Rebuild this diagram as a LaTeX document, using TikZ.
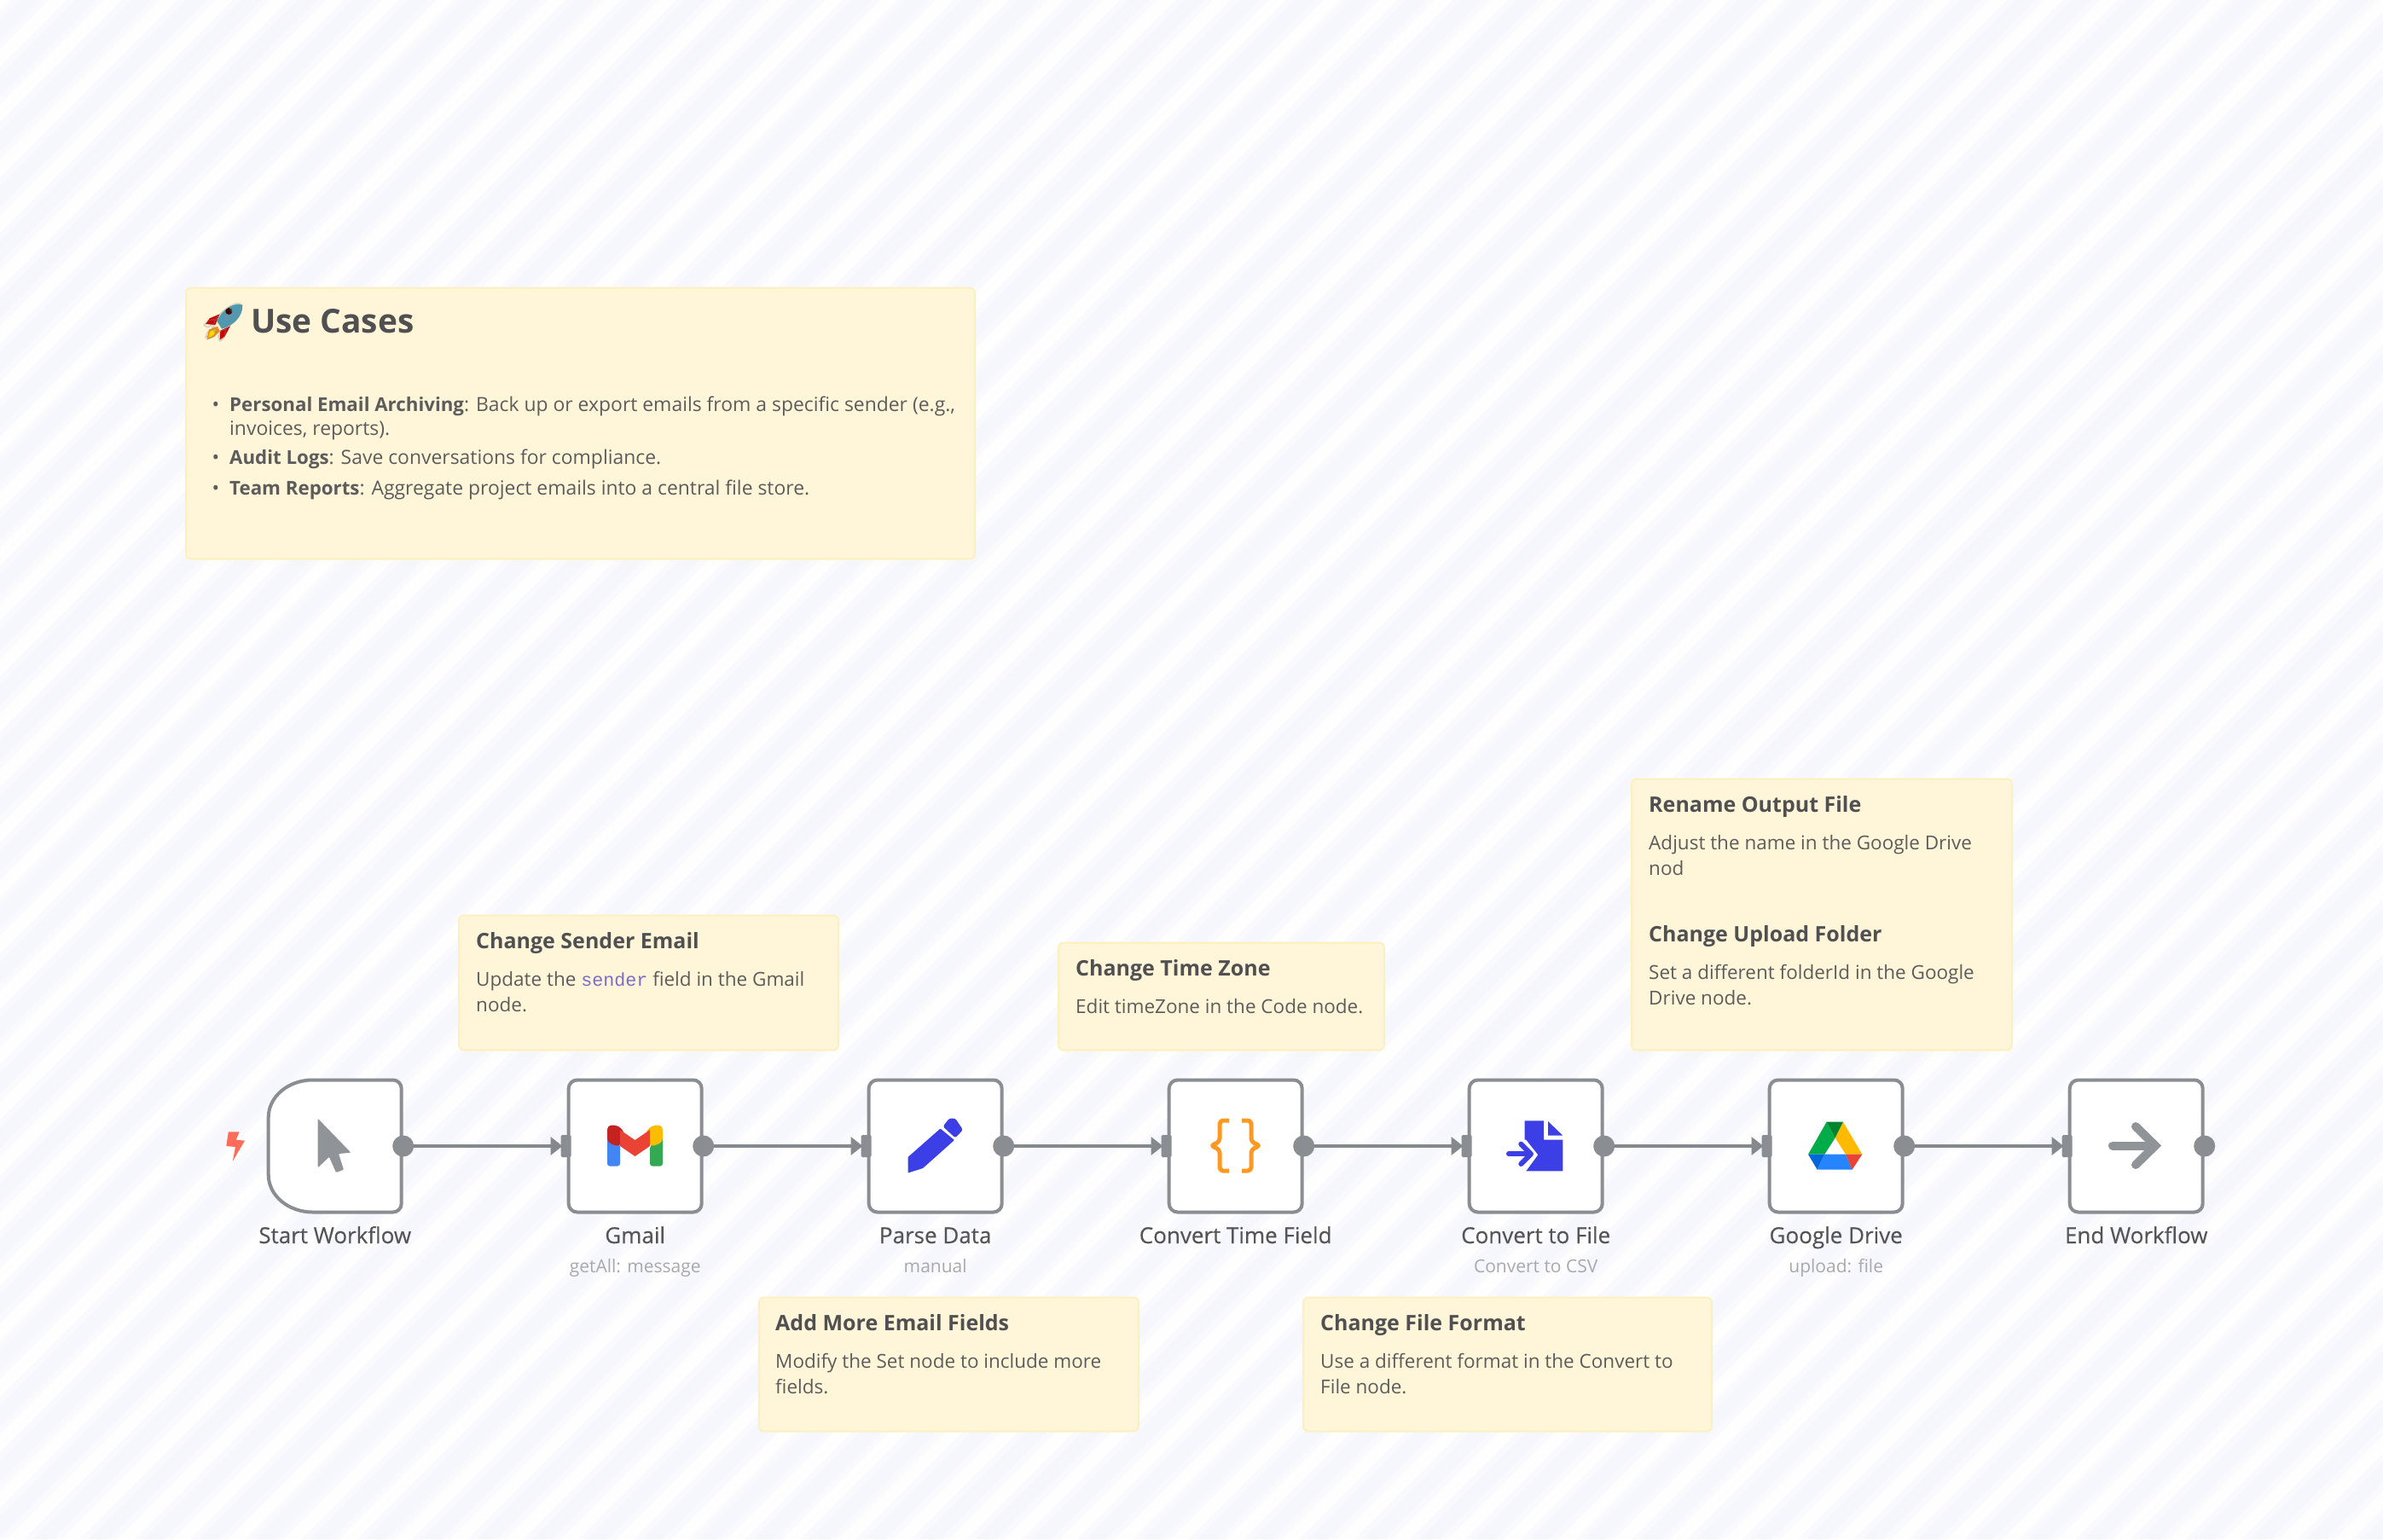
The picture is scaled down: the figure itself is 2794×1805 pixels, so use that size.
\documentclass[tikz,border=0pt]{standalone}
\usepackage{fontspec}
\setmainfont{Open Sans}
\newfontfamily\codefont{Liberation Mono}
\newfontfamily\emojifont{Noto Emoji}
\newfontfamily\labelfont{Open Sans}[FakeBold=0.35]
\newcommand{\leadin}[1]{{\fontsize{22.3}{28}\selectfont\bfseries #1}}
\usetikzlibrary{arrows.meta}
\definecolor{stripeA}{HTML}{FEFEFF}
\definecolor{stripeB}{HTML}{FAFAFE}
\definecolor{stripeC}{HTML}{F6F7FC}
\definecolor{noteFill}{HTML}{FFF5D8}
\definecolor{noteEdge}{HTML}{FDF0BF}
\definecolor{nodeEdge}{HTML}{8A8D91}
\definecolor{wireCol}{HTML}{85888C}
\definecolor{iconGrey}{HTML}{909398}
\definecolor{iconBlue}{HTML}{3D3FE6}
\definecolor{titleCol}{HTML}{505052}
\definecolor{bodyCol}{HTML}{5C5C5C}
\definecolor{labelCol}{HTML}{555558}
\definecolor{subCol}{HTML}{A8A9AC}
\definecolor{codeCol}{HTML}{7B6DC6}
\definecolor{boltCol}{HTML}{FF6D5A}
\definecolor{braceCol}{HTML}{FF9922}
\tikzset{
  note/.style={draw=noteEdge,fill=noteFill,line width=2pt,rounded corners=6pt},
  ntitle/.style={anchor=base west,inner sep=0pt,text=titleCol,font=\fontsize{25}{30}\selectfont\bfseries},
  nbody/.style={anchor=base west,inner sep=0pt,text=bodyCol,font=\fontsize{22.5}{28}\selectfont},
  ubody/.style={anchor=base west,inner sep=0pt,text=bodyCol,font=\fontsize{22.9}{28}\selectfont},
  wfbox/.style={draw=nodeEdge,fill=white,line width=4pt,rounded corners=10pt,minimum width=156pt,minimum height=155pt,inner sep=0pt},
  outport/.style={circle,fill=nodeEdge,minimum size=25pt,inner sep=0pt},
  inport/.style={rectangle,fill=nodeEdge,minimum width=12pt,minimum height=26pt,inner sep=0pt,rounded corners=1.5pt},
  wire/.style={draw=wireCol,line width=4.5pt,shorten >=-2pt,-{Triangle[length=14pt,width=21pt]}},
  wflabel/.style={anchor=base,inner sep=0pt,text=labelCol,font=\labelfont\fontsize{26}{30}\selectfont},
  wfsub/.style={anchor=base,inner sep=0pt,text=subCol,font=\fontsize{21}{26}\selectfont},
}
\begin{document}
\begin{tikzpicture}[x=1pt,y=-1pt]
\useasboundingbox (0,0) rectangle (2794,1805);
% striped canvas
\fill[stripeA] (0,0) rectangle (2794,1805);
\begin{scope}
\clip (0,0) rectangle (2794,1805);
\foreach \i in {0,...,70} {
  \fill[stripeB] ({\i*65+35-22-1805},1805) -- ++(44,0) -- ++(1805,-1805) -- ++(-44,0) -- cycle;
  \fill[stripeC] ({\i*65+35-12-1805},1805) -- ++(24,0) -- ++(1805,-1805) -- ++(-24,0) -- cycle;
}
\end{scope}

% sticky notes
\node[note,anchor=north west,minimum width=925pt,minimum height=318pt] (ucase) at (217,336.5) {};
\node[note,anchor=north west,minimum width=445pt,minimum height=158pt] (nsender) at (537,1072.5) {};
\node[note,anchor=north west,minimum width=382pt,minimum height=126pt] (ntime) at (1240,1104.5) {};
\node[note,anchor=north west,minimum width=446pt,minimum height=318pt] (nrename) at (1912,912.5) {};
\node[note,anchor=north west,minimum width=445pt,minimum height=157pt] (nfields) at (889,1520.5) {};
\node[note,anchor=north west,minimum width=479pt,minimum height=157pt] (nformat) at (1527,1520.5) {};

% rocket, painted under its glyph
\begin{scope}[shift={(225,345)},x=0.3333pt,y=-0.3333pt]
  \fill[red!80!black] (48,105) -- (62,85) -- (98,70) -- (82,108) -- cycle;
  \fill[red!80!black] (98,160) -- (115,150) -- (135,112) -- (100,128) -- cycle;
  \fill[orange!90!yellow] (52,160) -- (60,125) -- (90,113) -- (98,130) -- (78,150) -- cycle;
  \fill[yellow!75!orange] (56,155) -- (65,130) -- (85,122) -- (78,143) -- cycle;
  \fill[blue!25!cyan!40!gray] (178,38) .. controls (150,28) and (108,50) .. (88,95) -- (105,122) .. controls (150,110) and (180,75) .. (178,38) -- cycle;
  \fill[black!75!red] (130,60) circle (12);
\end{scope}
\node[anchor=center,inner sep=0pt,text=black!45,font=\emojifont\fontsize{46}{50}\selectfont,opacity=0.35] (rocket) at (262,378) {🚀};
\node[anchor=base west,inner sep=0pt,text=titleCol,font=\fontsize{38.8}{42}\selectfont\bfseries] (uctitle) at (294,390) {Use Cases};

\node[ubody,anchor=base] (b1) at (253,482.5) {•};
\node[ubody] (u1) at (269,482.5) {\leadin{Personal Email Archiving}: Back up or export emails from a specific sender (e.g.,};
\node[ubody] (u1b) at (269,510) {invoices, reports).};
\node[ubody,anchor=base] (b2) at (253,544.5) {•};
\node[ubody] (u2) at (269,544.5) {\leadin{Audit Logs}: Save conversations for compliance.};
\node[ubody,anchor=base] (b3) at (253,580) {•};
\node[ubody] (u3) at (269,580) {\leadin{Team Reports}: Aggregate project emails into a central file store.};

\node[ntitle] (t1) at (558,1112) {Change Sender Email};
\node[nbody] (t1a) at (558,1156) {Update the {\codefont\color{codeCol}\fontsize{21.7}{28}\selectfont sender} field in the Gmail};
\node[nbody] (t1b) at (558,1186) {node.};

\node[ntitle] (t2) at (1261,1144) {Change Time Zone};
\node[nbody] (t2a) at (1261,1188) {Edit timeZone in the Code node.};

\node[ntitle] (t3) at (1933,952) {Rename Output File};
\node[nbody] (t3a) at (1933,996) {Adjust the name in the Google Drive};
\node[nbody] (t3b) at (1933,1026) {nod};
\node[ntitle] (t4) at (1933,1104) {Change Upload Folder};
\node[nbody] (t4a) at (1933,1148) {Set a different folderId in the Google};
\node[nbody] (t4b) at (1933,1178) {Drive node.};

\node[ntitle] (t5) at (909,1560) {Add More Email Fields};
\node[nbody] (t5a) at (909,1604) {Modify the Set node to include more};
\node[nbody] (t5b) at (909,1634) {fields.};

\node[ntitle] (t6) at (1548,1560) {Change File Format};
\node[nbody] (t6a) at (1548,1604) {Use a different format in the Convert to};
\node[nbody] (t6b) at (1548,1634) {File node.};

% workflow boxes
\node[wfbox,draw=none,fill=none] (start) at (392.7,1344) {};
\draw[draw=nodeEdge,fill=white,line width=4pt]
  (366.7,1266.5) .. controls (338,1266.5) and (314.7,1286) .. (314.7,1310.5) -- (314.7,1377.5)
  .. controls (314.7,1402) and (338,1421.5) .. (366.7,1421.5) -- (460.7,1421.5)
  .. controls (466.2,1421.5) and (470.7,1417) .. (470.7,1411.5) -- (470.7,1276.5)
  .. controls (470.7,1271) and (466.2,1266.5) .. (460.7,1266.5) -- cycle;
\foreach \n/\cx in {gmail/744.7,parse/1096.7,ctime/1448.7,cfile/1800.7,gdrive/2152.7,endw/2504.7}
  \node[wfbox] (\n) at (\cx,1344) {};

% ports
\foreach \n in {start,gmail,parse,ctime,cfile,gdrive,endw}
  \node[outport] (\n-out) at (\n.east) {};
\foreach \n in {gmail,parse,ctime,cfile,gdrive,endw}
  \node[inport] (\n-in) at ([xshift=-1pt]\n.west) {};
% connectors
\foreach \a/\b in {start/gmail,gmail/parse,parse/ctime,ctime/cfile,cfile/gdrive,gdrive/endw}
  \draw[wire] (\a-out.east) -- (\b-in.west);

% labels
\node[wflabel] (l1) at (392.7,1458) {Start Workflow};
\node[wflabel] (l2) at (744.7,1458) {Gmail};
\node[wfsub]   (s2) at (744.7,1492.5) {getAll: message};
\node[wflabel] (l3) at (1096.7,1458) {Parse Data};
\node[wfsub]   (s3) at (1096.7,1492.5) {manual};
\node[wflabel] (l4) at (1448.7,1458) {Convert Time Field};
\node[wflabel] (l5) at (1800.7,1458) {Convert to File};
\node[wfsub]   (s5) at (1800.7,1492.5) {Convert to CSV};
\node[wflabel] (l6) at (2152.7,1458) {Google Drive};
\node[wfsub]   (s6) at (2152.7,1492.5) {upload: file};
\node[wflabel] (l7) at (2504.7,1458) {End Workflow};

% trigger bolt
\fill[boltCol] (267.8,1327.3) -- (280.8,1327.3) -- (276.7,1336.7) -- (287,1337.7) -- (272.7,1362) -- (276,1345) -- (265.3,1344) -- cycle;

% cursor icon
\fill[iconGrey,rounded corners=1pt] (372.7,1311.7) -- (411.4,1351.7) -- (397,1353) -- (403,1371.7) -- (394,1375) -- (386,1356.7) -- (372.7,1369.3) -- cycle;

% gmail icon
\definecolor{gmBlue}{HTML}{4285F4}\definecolor{gmGreen}{HTML}{34A853}\definecolor{gmRed}{HTML}{EA4335}\definecolor{gmDark}{HTML}{C5221F}\definecolor{gmYellow}{HTML}{FBBC04}
\fill[gmBlue,rounded corners=3pt] (712,1332) -- (727,1342) -- (727,1367.5) -- (712,1367.5) -- cycle;
\fill[gmGreen,rounded corners=3pt] (777,1332) -- (762,1344) -- (762,1367.5) -- (777,1367.5) -- cycle;
\fill[gmDark,rounded corners=5pt] (712,1340) -- (712,1319.5) -- (724,1319.5) -- (733,1328) -- (727,1345) -- cycle;
\fill[gmYellow,rounded corners=5pt] (777,1340) -- (777,1319.5) -- (765,1319.5) -- (756,1328) -- (762,1345) -- cycle;
\fill[gmRed] (727,1325) -- (744.5,1337) -- (762,1325) -- (762,1344) -- (744.5,1356) -- (727,1344) -- cycle;

% pencil icon
\fill[iconBlue,rounded corners=0.8pt] (1064.5,1357) -- (1102.5,1323.5) -- (1119,1337) -- (1082,1370) -- (1064.5,1375.5) -- cycle;
\fill[iconBlue,rounded corners=2.5pt] (1105.5,1321) -- (1113,1311.5) -- (1120,1311.5) -- (1129,1325) -- (1120,1334.5) -- cycle;

% code braces
\draw[draw=braceCol,line width=5pt,rounded corners=4pt,line join=round]
  (1441,1314) -- (1430,1314) -- (1430,1339) -- (1419.5,1343.5) -- (1430,1348) -- (1430,1373) -- (1441,1373);
\draw[draw=braceCol,line width=5pt,rounded corners=4pt,line join=round]
  (1456,1314) -- (1467,1314) -- (1467,1339) -- (1477.5,1343.5) -- (1467,1348) -- (1467,1373) -- (1456,1373);

% convert-to-file icon
\begin{scope}[shift={(1750,1295)},x=0.3333pt,y=-0.3333pt]
  \fill[iconBlue] (113,58) -- (180,58) -- (180,125) -- (247,125) -- (247,235) -- (118,235) -- (160,178) -- (118,125) -- (113,125) -- cycle;
  \fill[iconBlue] (195,60) -- (247,110) -- (195,110) -- cycle;
  \draw[iconBlue,line width=6pt,line cap=round] (57,175) -- (130,175);
  \draw[iconBlue,line width=6pt,line cap=round,line join=round] (100,140) -- (135,175) -- (100,210);
\end{scope}

% drive icon
\begin{scope}[shift={(2100,1295)},x=0.3333pt,y=-0.3333pt]
  \fill[fill={rgb,255:red,0;green,172;blue,71}] (125,62) -- (155,118) -- (118,176) -- (60,176) -- cycle;
  \fill[fill={rgb,255:red,255;green,186;blue,0}] (183,62) -- (250,176) -- (192,176) -- (155,118) -- cycle;
  \fill[fill={rgb,255:red,0;green,131;blue,45}] (125,62) -- (183,62) -- (155,118) -- cycle;
  \fill[fill={rgb,255:red,0;green,102;blue,218}] (60,176) -- (118,176) -- (92,230) -- cycle;
  \fill[fill={rgb,255:red,38;green,132;blue,252}] (118,176) -- (192,176) -- (215,230) -- (92,230) -- cycle;
  \fill[fill={rgb,255:red,234;green,67;blue,53}] (192,176) -- (250,176) -- (215,230) -- cycle;
\end{scope}

% end arrow icon
\draw[iconGrey,line width=10pt,line cap=round] (2477,1343.5) -- (2522,1343.5);
\draw[iconGrey,line width=10pt,line cap=round,line join=miter] (2504,1321) -- (2527,1343.5) -- (2504,1366);
\end{tikzpicture}
\end{document}
